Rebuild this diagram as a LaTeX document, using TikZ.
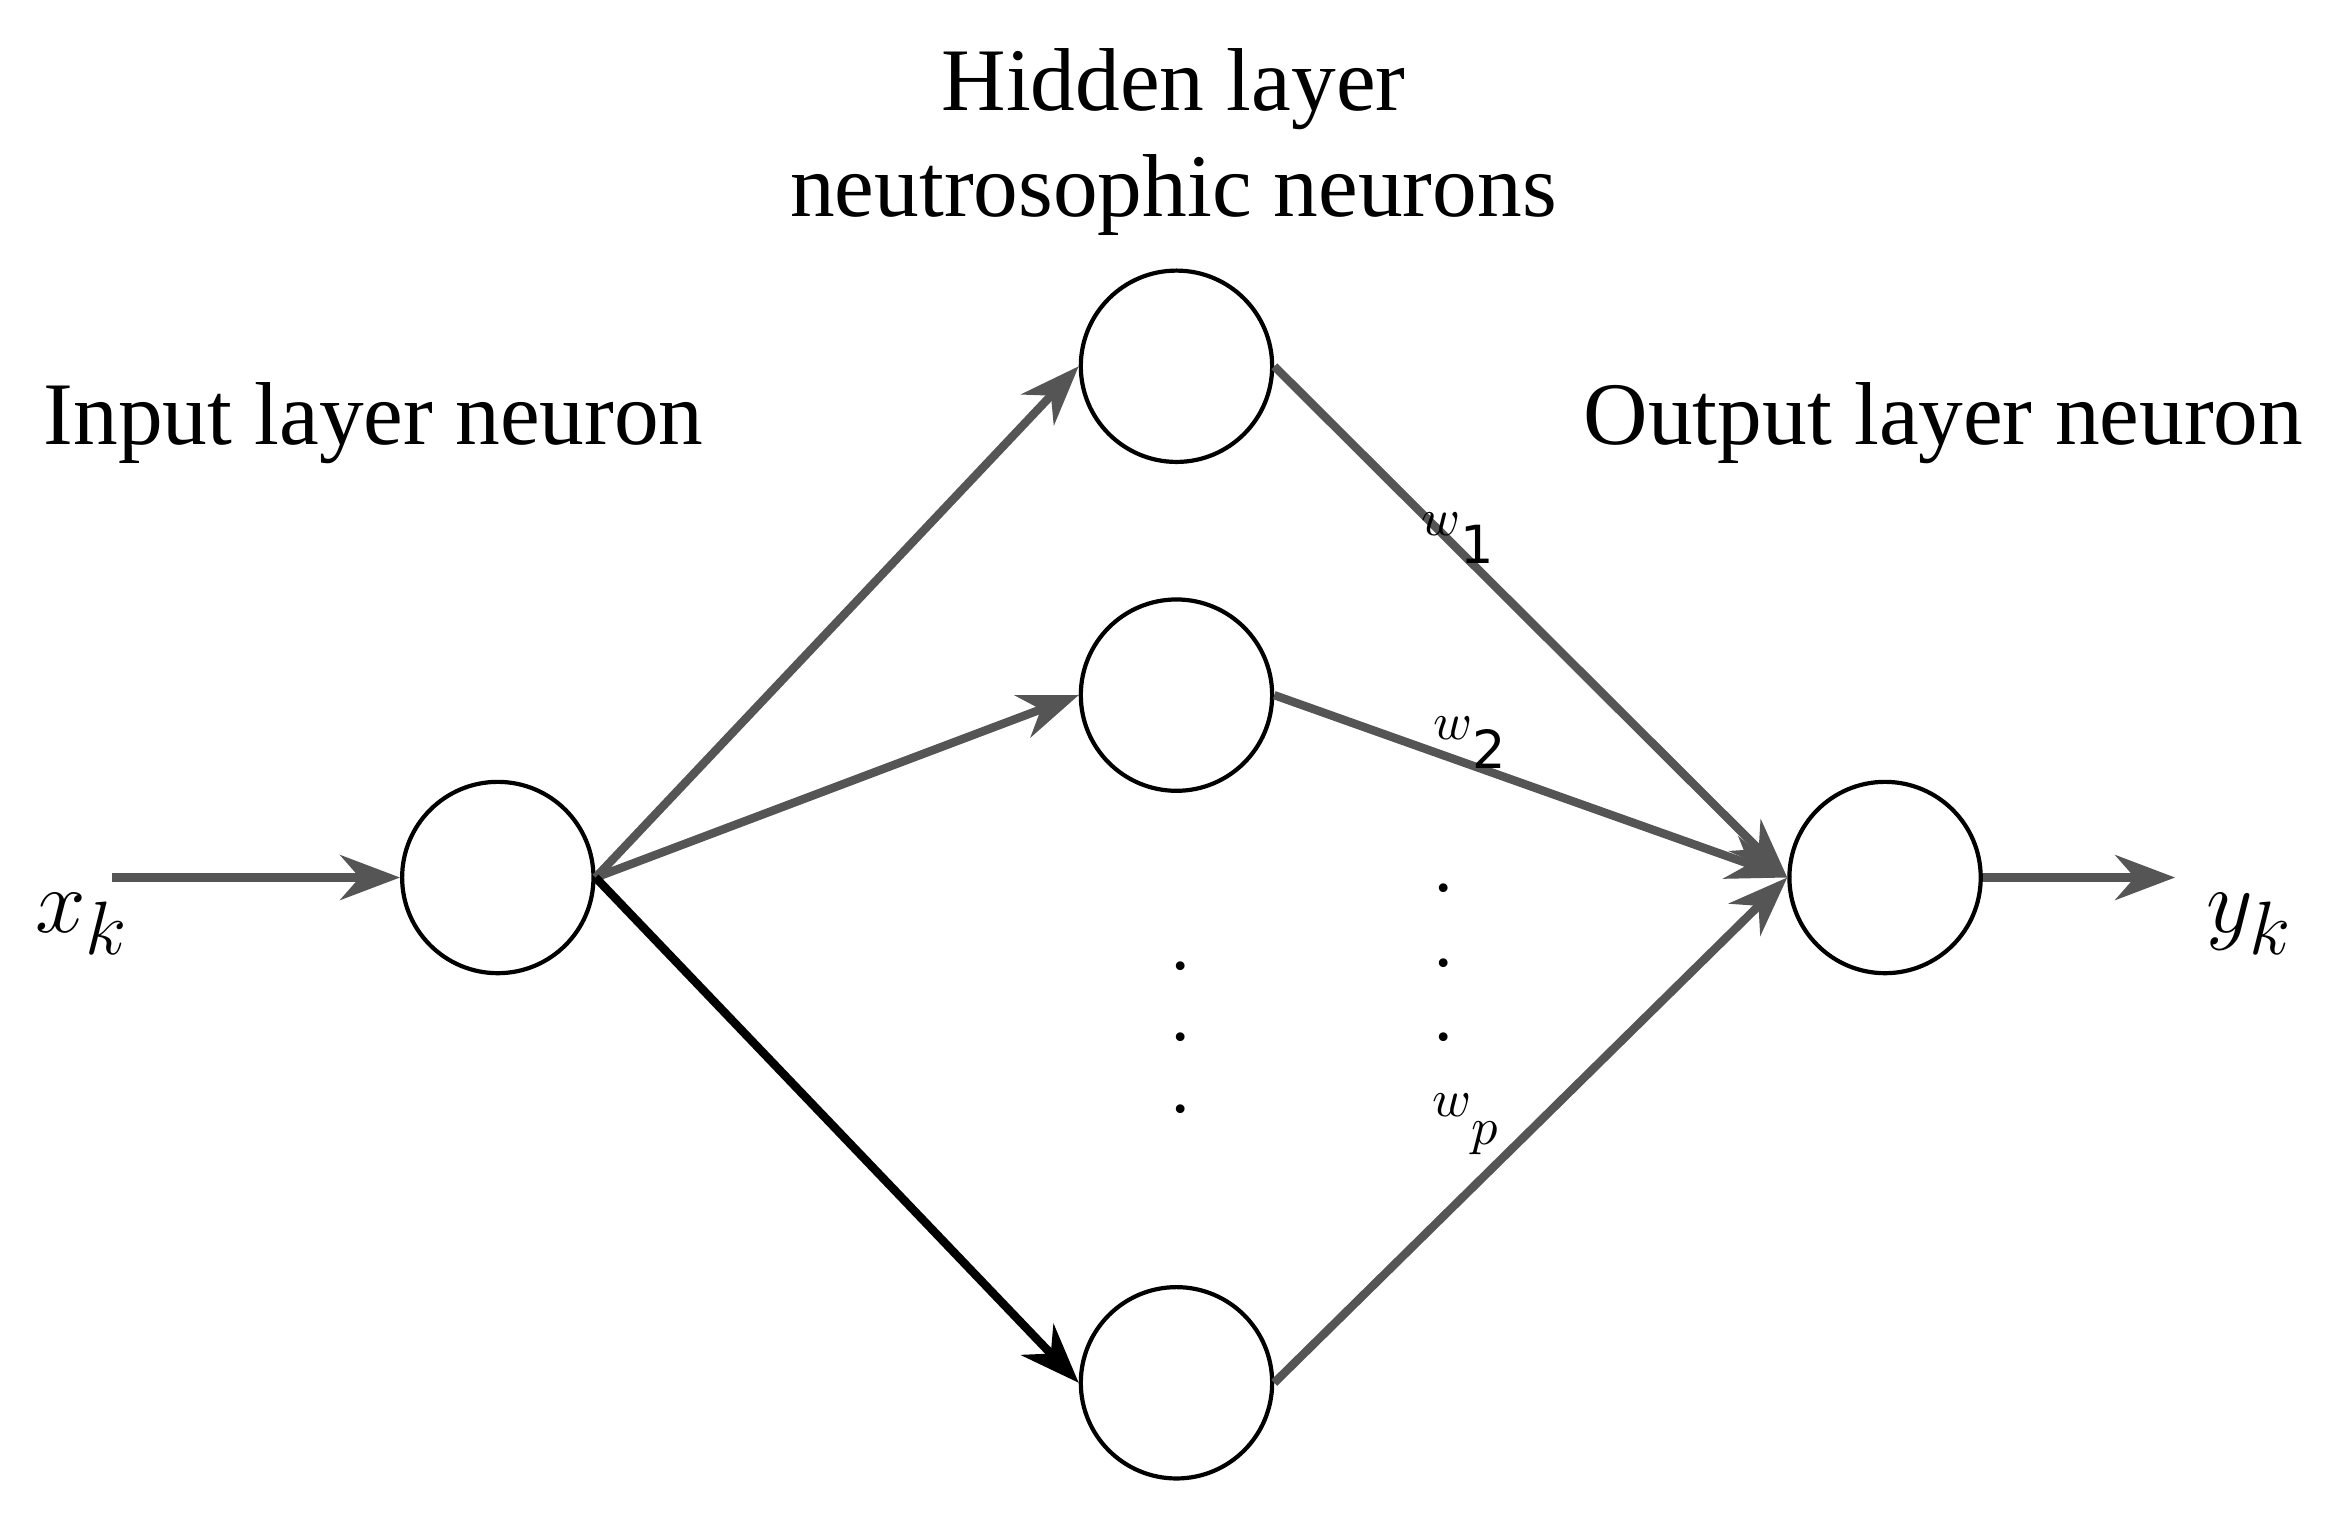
\documentclass[tikz,border=0pt]{standalone}
\usepackage{fontspec}
\setmainfont{Liberation Serif}
\newfontfamily\wfont{DejaVu Sans}
\usetikzlibrary{arrows.meta,positioning}
\definecolor{edgegray}{HTML}{555555}
\tikzset{
  neuron/.style={draw,circle,thick,minimum size=12.8mm,inner sep=0pt},
  link/.style={edgegray,line width=1.6pt,-{Stealth[length=4mm,width=3mm]}},
  title/.style={font=\fontsize{17}{20}\selectfont,align=center},
  wlabel/.style={font=\wfont\fontsize{10}{12}\selectfont},
  dot/.style={font=\fontsize{14}{14}\selectfont}
}
\begin{document}
\begin{tikzpicture}[x=0.1mm,y=-0.1mm]
  \useasboundingbox (0,0) rectangle (1568,1023);
  % neurons
  \node[neuron] (in) at (333,587) {};
  \node[neuron] (h1) at (787,245) {};
  \node[neuron] (h2) at (787,465) {};
  \node[neuron] (hp) at (787,925) {};
  \node[neuron] (out) at (1261,587) {};
  \coordinate (xs) at (75,587);
  \coordinate (ye) at (1455,587);
  % titles
  \node[title] (thid) at (785,95) {Hidden layer\\neutrosophic neurons};
  \node[title] (tin) at (250,283) {Input layer neuron};
  \node[title] (tout) at (1300,283) {Output layer neuron};
  \node[font=\fontsize{19}{20}\selectfont] (xk) at (55,618) {$x_k$};
  \node[font=\fontsize{19}{20}\selectfont] (yk) at (1505,618) {$y_k$};
  % connectors
  \draw[link] (xs) -- (in);
  \draw[link] (out) -- (ye);
  \draw[link] (in.east) -- (h1.west);
  \draw[link] (in.east) -- (h2.west);
  \draw[link,black] (in.east) -- (hp.west);
  \draw[link] (h1.east) -- (out.west);
  \draw[link] (h2.east) -- (out.west);
  \draw[link] (hp.east) -- (out.west);
  % weights
  \node[wlabel] (w1) at (975,360) {$w$\raisebox{-1ex}{1}};
  \node[wlabel] (w2) at (983,497) {$w$\raisebox{-1ex}{2}};
  \node[wlabel] (wp) at (980,752) {$w$\raisebox{-1ex}{$p$}};
  % dots
  \foreach \y in {652,700,748} \node[dot] at (790,\y-6) {.};
  \foreach \y in {600,650,700} \node[dot] at (966,\y-6) {.};
\end{tikzpicture}
\end{document}
